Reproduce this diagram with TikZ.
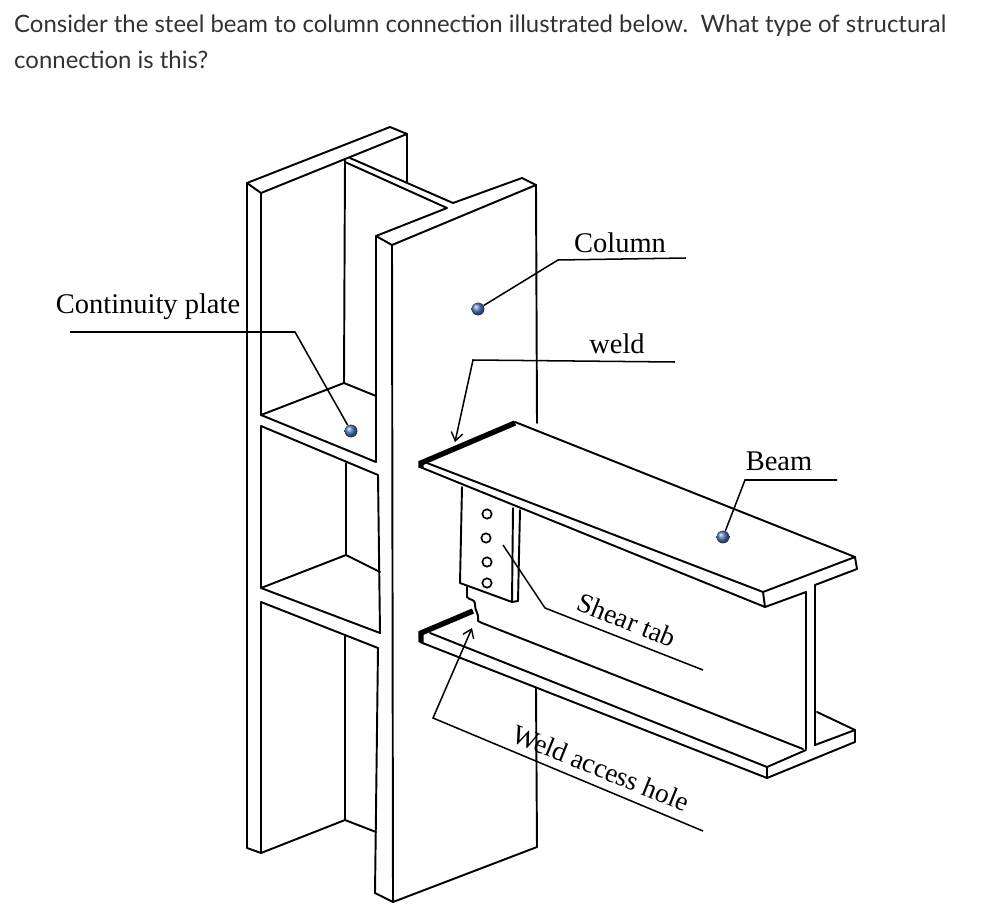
\documentclass[tikz,border=0pt]{standalone}
\usepackage{fontspec}
\setmainfont{Lato}
\newfontfamily\labelfont{Liberation Serif}
\usetikzlibrary{arrows.meta}
\definecolor{dotblue}{RGB}{80,120,185}
\definecolor{questiongray}{RGB}{50,50,50}
\tikzset{
  steel/.style={line width=1.65pt,line join=round,line cap=round},
  leader/.style={line width=1.3pt,line join=miter},
  weldline/.style={line width=4.6pt,line cap=butt,line join=miter},
  lbl/.style={inner sep=0pt,font=\labelfont\fontsize{24.3}{26}\selectfont},
  sloped lbl/.style={inner sep=0pt,rotate=-22,font=\labelfont\fontsize{23.4}{25}\selectfont},
  pin/.style={circle,inner sep=0pt,minimum size=11pt,shading=ball,ball color=dotblue},
  bolthole/.style={circle,draw,line width=1.4pt,inner sep=0pt,minimum size=8pt},
  tip/.style={-{Straight Barb[length=7pt,width=10pt,line width=1.2pt]}},
  question/.style={anchor=base west,inner sep=0pt,text=questiongray,font=\fontsize{20.43}{24}\selectfont}
}

\begin{document}
\begin{tikzpicture}[x=0.03cm,y=-0.03cm]
  \useasboundingbox (0,0) rectangle (998,920);
  \path
  node[question] (line_1) at (14,32) {Consider the steel beam to column connection illustrated below.\ \ What type of structural}
  node[question] (line_2) at (14,68) {connection is this?}
  ;
  % column
  \draw[steel] (247,848) -- (247,183) -- (390,127) -- (407,134) -- (261,193) -- (247,183);
  \draw[steel] (407,134) -- (407,182);
  \draw[steel] (261,193) -- (261,415) (261,426) -- (261,588) (261,602) -- (261,853) -- (247,848);
  \draw[steel] (345,160) -- (344,383);
  \draw[steel] (350,158) -- (453,203) -- (522,178) -- (536,185) -- (392,245) -- (376,236) -- (447,208) -- (345,162);
  \draw[steel] (376,236) -- (376,462) (378,475) -- (380,633) (378,648) -- (375,893) -- (393,902) -- (537,847) -- (536,688);
  \draw[steel] (392,245) -- (393,902);
  \draw[steel] (536,185) -- (537,423);
  % continuity plates
  \draw[steel] (376,396) -- (344,383) -- (261,415) -- (376,462);
  \draw[steel] (261,426) -- (378,475);
  \draw[steel] (346,463) -- (346,555);
  \draw[steel] (380,572) -- (346,555) -- (261,588) -- (380,633);
  \draw[steel] (261,602) -- (378,648);
  \draw[steel] (345,635) -- (345,820) -- (261,853);
  \draw[steel] (345,820) -- (376,832);
  % beam
  \draw[steel] (515,422) -- (855,557) -- (763,592) -- (427,463);
  \draw[steel] (420,467) -- (765,607) -- (806,592) -- (806,749);
  \draw[steel] (763,592) -- (765,607);
  \draw[steel] (855,557) -- (857,569) -- (815,585) -- (815,745) -- (855,730) -- (855,742) -- (767,778) -- (420,642);
  \draw[steel] (855,730) -- (817,712);
  \draw[steel] (430,633) -- (767,767) -- (806,750);
  \draw[steel] (767,767) -- (767,778);
  \draw[steel] (482,623) -- (803,749);
  \draw[steel] (467,587) -- (467,597) .. controls (470,601) and (475,598) .. (475,605) .. controls (475,612) and (479,612) .. (478,621) -- (482,623);
  % shear tab
  \draw[steel] (462,487) -- (460,583) -- (512,602) -- (513,508);
  \draw[steel] (512,602) -- (518,601) -- (520,510);
  \path
  node[bolthole] (hole_1) at (487,514) {}
  node[bolthole] (hole_2) at (486,538) {}
  node[bolthole] (hole_3) at (487,562) {}
  node[bolthole] (hole_4) at (487,583) {}
  ;
  % welds
  \draw[weldline] (515,423) -- (421,463) -- (421,468);
  \draw[weldline] (473,611) -- (421,633) -- (421,642);
  % labels
  \path
  node[lbl] (column) at (620,243) {Column}
  node[lbl] (weld) at (617,344) {weld}
  node[lbl] (beam) at (779,461) {Beam}
  node[lbl] (plate) at (148,307) {Continuity plate}
  node[sloped lbl] (tab) at (627,620) {Shear tab}
  node[sloped lbl] (hole) at (601,768) {Weld access hole}
  node[pin] (column_pin) at (478,309) {}
  node[pin] (plate_pin) at (351,431) {}
  node[pin] (beam_pin) at (723,537) {}
  coordinate (column_end) at (686,258)
  coordinate (weld_start) at (675,362)
  coordinate (weld_tip) at (455,442)
  coordinate (beam_end) at (837,480)
  coordinate (plate_start) at (70,332)
  coordinate (tab_start) at (703,670)
  coordinate (tab_tip) at (503,545)
  coordinate (hole_start) at (703,831)
  coordinate (hole_tip) at (472,628)
  ;
  % leaders
  \draw[leader] (column_pin) -- (558,260) -- (column_end);
  \draw[leader,tip] (weld_start) -- (473,360) -- (weld_tip);
  \draw[leader] (beam_pin) -- (745,480) -- (beam_end);
  \draw[leader] (plate_start) -- (295,332) -- (plate_pin);
  \draw[leader] (tab_start) -- (545,608) -- (tab_tip);
  \draw[leader,tip] (hole_start) -- (433,718) -- (hole_tip);
\end{tikzpicture}
\end{document}
